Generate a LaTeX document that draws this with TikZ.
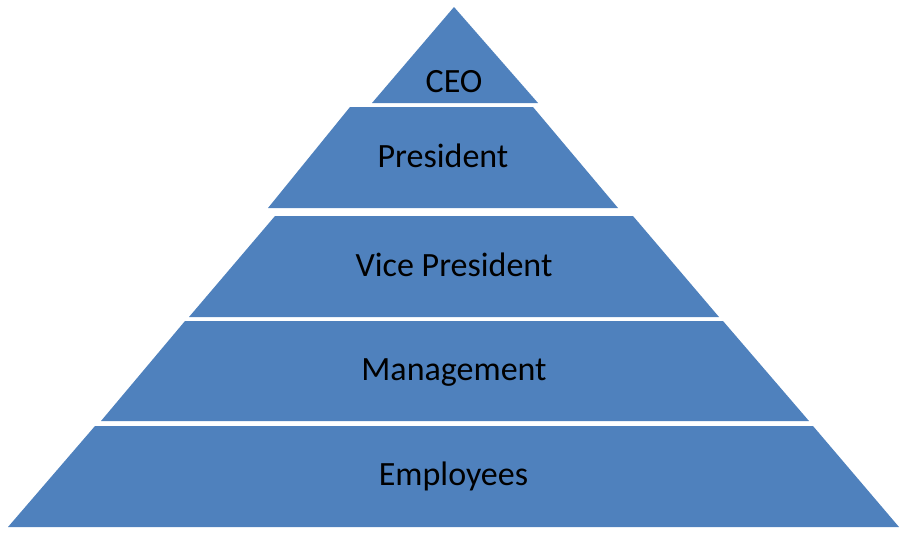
\documentclass[tikz,border=0pt]{standalone}
\usepackage{fontspec}
\setmainfont{Carlito}
\definecolor{layerblue}{HTML}{4F81BD}
\begin{document}
\begin{tikzpicture}[x=1pt,y=-1pt,
  layer/.style={fill=layerblue},
  lbl/.style={anchor=base,inner sep=0pt,text=black,font=\fontsize{34}{40}\selectfont}]
\useasboundingbox (0,0) rectangle (908,533);
% CEO
\fill[layer] (454,7) -- (538,103) -- (372,103) -- cycle;
% President
\fill[layer] (350,107) -- (533,107) -- (618,208) -- (268,208) -- cycle;
% Vice President
\fill[layer] (275,216) -- (633,216) -- (719,317) -- (189,317) -- cycle;
% Management
\fill[layer] (185,321) -- (723,321) -- (809,421) -- (101,421) -- cycle;
% Employees
\fill[layer] (95,426) -- (813,426) -- (899,527) -- (8,527) -- cycle;
\node[lbl] (ceo) at (454,92) {CEO};
\node[lbl] (pres) at (443,167) {President};
\node[lbl] (vp) at (454,276) {Vice President};
\node[lbl] (mgmt) at (454,380) {Management};
\node[lbl] (emp) at (453.5,485) {Employees};
\end{tikzpicture}
\end{document}
